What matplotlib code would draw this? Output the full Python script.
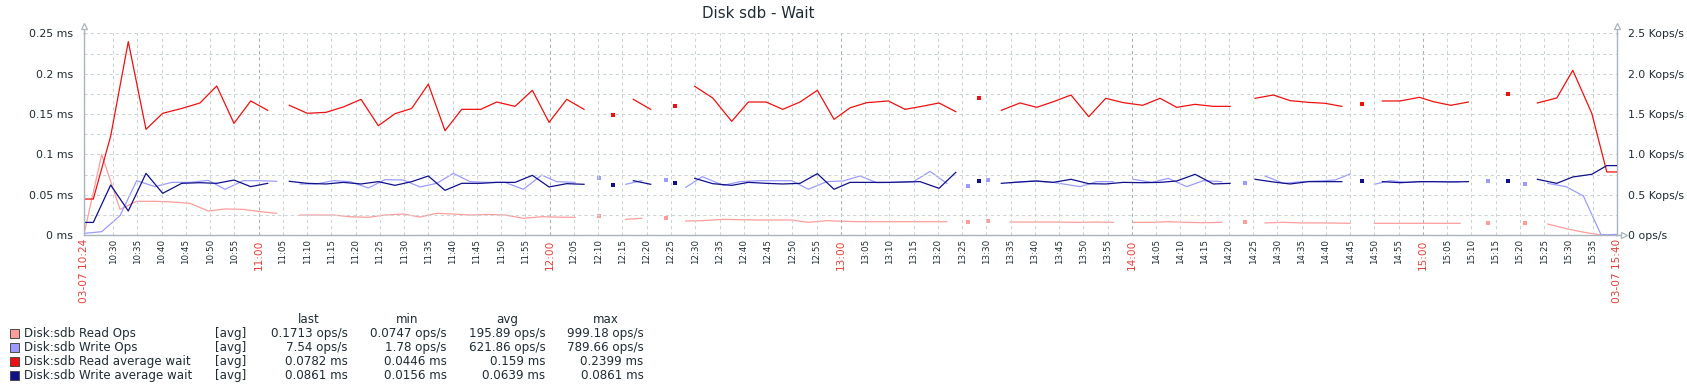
import numpy as np
import matplotlib
matplotlib.use('Agg')
import matplotlib.pyplot as plt
from matplotlib.patches import Rectangle
from matplotlib.lines import Line2D

nan = np.nan

# minutes after 03-07 10:24 (wait items)
wait_t = [0, 1.92, 5.50, 9.13, 12.78, 16.22, 20.14, 23.91, 27.36, 30.92, 34.36, 37.87, nan,
          42.32, 46.03, 49.89, 53.45, 57.10, 60.67, 64.11, 67.55, 70.98, 74.42, 77.86,
          81.78, 85.08, 88.85, 92.42, 95.86, 99.51, 103.07, nan,
          109.11, nan,
          113.23, 116.82, nan,
          121.89, nan,
          125.89, 129.60, 133.52, 136.94, 140.59, 144.03, 147.60, 151.17, 154.61, 157.91,
          161.35, 165.80, 169.24, 172.34, 176.25, 179.70, nan,
          184.56, nan,
          189.09, 192.95, 196.39, 199.81, 203.46, 207.11, 210.62, 214.24, 218.24, 221.81,
          225.25, 229.03, 232.80, 236.24, nan,
          241.39, 245.17, 248.61, 252.38, 255.82, 259.27, nan,
          263.51, nan,
          267.64, 271.29, 275.27, 278.15, 281.74, 285.37, nan,
          293.61, nan,
          299.59, 303.59, 306.89, 310.80, 313.90, 316]

read_wait = [0.0446, 0.0446, 0.1228, 0.2399, 0.1311, 0.1510, 0.1570, 0.1638, 0.1849, 0.1385, 0.1663, 0.1547, nan,
             0.1609, 0.1510, 0.1522, 0.1588, 0.1683, 0.1356, 0.1505, 0.1570, 0.1872, 0.1294, 0.1559,
             0.1559, 0.1650, 0.1596, 0.1795, 0.1398, 0.1683, 0.1559, nan,
             0.1485, nan,
             0.1683, 0.1559, nan,
             0.1596, nan,
             0.1845, 0.1700, 0.1410, 0.1650, 0.1650, 0.1559, 0.1650, 0.1795, 0.1435, 0.1578,
             0.1642, 0.1663, 0.1559, 0.1592, 0.1638, 0.1530, nan,
             0.1696, nan,
             0.1547, 0.1638, 0.1584, 0.1654, 0.1737, 0.1468, 0.1696, 0.1642, 0.1609, 0.1696,
             0.1584, 0.1621, 0.1596, 0.1596, nan,
             0.1696, 0.1737, 0.1667, 0.1646, 0.1634, 0.1596, nan,
             0.1621, nan,
             0.1663, 0.1663, 0.1708, 0.1654, 0.1609, 0.1650, nan,
             0.1745, nan,
             0.1638, 0.1700, 0.2043, 0.1510, 0.0782, 0.0782]

write_wait = [0.0156, 0.0156, 0.0620, 0.0298, 0.0765, 0.0517, 0.0641, 0.0649, 0.0641, 0.0682, 0.0600, 0.0641, nan,
              0.0666, 0.0641, 0.0633, 0.0653, 0.0633, 0.0662, 0.0616, 0.0662, 0.0732, 0.0554, 0.0641,
              0.0641, 0.0653, 0.0653, 0.0740, 0.0596, 0.0637, 0.0629, nan,
              0.0616, nan,
              0.0674, 0.0629, nan,
              0.0641, nan,
              0.0703, 0.0637, 0.0616, 0.0653, 0.0641, 0.0633, 0.0641, 0.0761, 0.0567, 0.0653,
              0.0653, 0.0653, 0.0658, 0.0662, 0.0579, 0.0777, nan,
              0.0666, nan,
              0.0641, 0.0658, 0.0670, 0.0653, 0.0691, 0.0637, 0.0633, 0.0653, 0.0649, 0.0653,
              0.0670, 0.0753, 0.0633, 0.0641, nan,
              0.0691, 0.0658, 0.0633, 0.0662, 0.0662, 0.0662, nan,
              0.0666, nan,
              0.0662, 0.0649, 0.0662, 0.0662, 0.0658, 0.0662, nan,
              0.0666, nan,
              0.0691, 0.0641, 0.0720, 0.0753, 0.0861, 0.0861]

# minutes after 03-07 10:24 (ops items)
ops_t = [0, 3.65, 7.42, 10.86, 14.64, 18.08, 21.85, 25.62, 29.07, 32.84, 36.28, 39.72, nan,
         44.53, 47.90, 51.39, 54.83, 58.61, 62.05, 65.82, 69.26, 72.71, 76.13, 79.57,
         83.22, 86.79, 90.56, 94.35, 97.44, 101.22, nan,
         106.23, nan,
         111.67, 114.97, nan,
         120.04, nan,
         124.04, 127.46, 131.79, 135.23, 139.35, 142.80, 145.89, 149.31, 153.10, 156.50,
         159.97, 163.41, 167.18, 170.96, 174.40, 177.84, nan,
         182.29, nan,
         186.35, nan,
         190.89, 195.69, 199.81, 205.32, 208.76, 212.18, nan,
         216.30, 220.09, 223.52, 227.31, 230.74, 234.53, nan,
         239.22, nan,
         243.46, 247.23, 251.03, 254.80, 257.89, 260.98, nan,
         265.99, 269.22, 272.67, 276.09, 279.88, 283.65, nan,
         289.49, nan,
         297.11, nan,
         301.73, 305.50, 309.07, 312.72, 316]

write_ops = [20, 41, 240, 674, 600, 653, 653, 678, 567, 674, 674, 666, nan,
             633, 633, 674, 662, 583, 687, 682, 596, 641, 765, 662,
             653, 653, 567, 744, 662, 653, nan,
             703, nan,
             629, 674, nan,
             678, nan,
             591, 724, 616, 662, 674, 674, 674, 567, 662, 670,
             732, 649, 653, 662, 789.66, 641, nan,
             604, nan,
             678, nan,
             649, 670, 653, 600, 662, 662, nan,
             691, 653, 703, 600, 674, 662, nan,
             641, nan,
             732, 641, 662, 670, 682, 757, nan,
             629, 674, 653, 662, 662, 662, nan,
             674, nan,
             629, nan,
             641, 600, 484, 1.78, 7.54]

read_ops = [10, 999.18, 318, 418, 418, 410, 393, 298, 323, 318, 290, 269, nan,
            248, 248, 248, 227, 219, 248, 260, 223, 269, 260, 248,
            255, 248, 207, 227, 222, 219, nan,
            232, nan,
            194, 207, nan,
            207, nan,
            174, 178, 194, 190, 186, 186, 186, 157, 178, 170,
            165, 165, 165, 165, 165, 165, nan,
            157, nan,
            170, nan,
            161, 161, 161, 157, 161, 157, nan,
            157, 157, 165, 157, 153, 157, nan,
            157, nan,
            150, 157, 150, 150, 148, 145, nan,
            145, 145, 145, 145, 145, 145, nan,
            145, nan,
            145, nan,
            136, 79, 35, 0.0747, 0.1713]

series_names = ['Disk:sdb Read Ops', 'Disk:sdb Write Ops',
                'Disk:sdb Read average wait', 'Disk:sdb Write average wait']
last_txt = ['0.1713 ops/s', '7.54 ops/s', '0.0782 ms', '0.0861 ms']
min_txt = ['0.0747 ops/s', '1.78 ops/s', '0.0446 ms', '0.0156 ms']
avg_txt = ['195.89 ops/s', '621.86 ops/s', '0.159 ms', '0.0639 ms']
max_txt = ['999.18 ops/s', '789.66 ops/s', '0.2399 ms', '0.0861 ms']
colors = ['#ff9c9c', '#9c9cff', '#f01010', '#10108c']

txt_c = '#1f2c33'
red_c = '#e8403c'
axis_c = '#a9b4bc'
grid_c = '#cbd3d8'

W, H = 1687, 390
fig = plt.figure(figsize=(W / 100, H / 100), dpi=100)


def fx(px):
    return px / W


def fy(py):
    return 1 - py / H


ax = fig.add_axes([fx(84), fy(235), (1617 - 84) / W, (235 - 33.5) / H])
ax2 = ax.twinx()
ax.set_zorder(ax2.get_zorder() + 1)
ax.patch.set_visible(False)


def draw(a, t, v, c):
    t = np.asarray(t, float)
    v = np.asarray(v, float)
    a.plot(t, v, color=c, lw=0.9)
    ok = ~np.isnan(v)
    prev = np.r_[False, ok[:-1]]
    nxt = np.r_[ok[1:], False]
    iso = ok & ~prev & ~nxt
    a.plot(t[iso], v[iso], ls='none', marker='s', ms=2.4, mew=0, color=c)


draw(ax2, ops_t, read_ops, colors[0])
draw(ax2, ops_t, write_ops, colors[1])
draw(ax, wait_t, read_wait, colors[2])
draw(ax, wait_t, write_wait, colors[3])

ax.set_xlim(0, 316)
ax.set_ylim(0, 0.25)
ax2.set_ylim(0, 2500)

# x ticks every 5 minutes, hours in red
tick_t = [0] + list(range(6, 312, 5)) + [316]
labels = []
for t in tick_t:
    m = 10 * 60 + 24 + t
    s = '%02d:%02d' % (m // 60, m % 60)
    if t in (0, 316):
        s = '03-07 ' + s
    labels.append(s)
ax.set_xticks(tick_t)
ax.set_xticklabels(labels, rotation=90)
ax.tick_params(axis='x', length=0, pad=3)
for t, lab in zip(tick_t, ax.get_xticklabels()):
    m = 10 * 60 + 24 + t
    if t in (0, 316) or m % 60 == 0:
        lab.set_color(red_c)
        lab.set_fontsize(7.6)
    else:
        lab.set_color(txt_c)
        lab.set_fontsize(6.3)

ax.set_yticks([0, 0.05, 0.1, 0.15, 0.2, 0.25])
ax.set_yticklabels(['0 ms', '0.05 ms', '0.1 ms', '0.15 ms', '0.2 ms', '0.25 ms'])
ax.set_yticks([0.025, 0.075, 0.125, 0.175, 0.225], minor=True)
ax.tick_params(axis='y', which='both', length=0, pad=8, labelsize=7.9, labelcolor=txt_c)
ax2.set_yticks([0, 500, 1000, 1500, 2000, 2500])
ax2.set_yticklabels(['0 ops/s', '0.5 Kops/s', '1.0 Kops/s', '1.5 Kops/s', '2.0 Kops/s', '2.5 Kops/s'])
ax2.tick_params(axis='y', length=0, pad=8, labelsize=7.8, labelcolor=txt_c)

ax.grid(axis='y', which='both', color=grid_c, lw=0.75, ls=(0, (3, 3)))
ax.grid(axis='x', which='major', color=grid_c, lw=0.75, ls=(0, (3, 3)))
for t, gl in zip(tick_t, ax.get_xgridlines()):
    m = 10 * 60 + 24 + t
    if m % 60 == 0:
        gl.set_color('#a4b0b8')

for sp in ['top', 'right']:
    ax.spines[sp].set_visible(False)
for sp in ['top', 'left', 'bottom']:
    ax2.spines[sp].set_visible(False)
for sp in [ax.spines['left'], ax.spines['bottom'], ax2.spines['right']]:
    sp.set_color(axis_c)
    sp.set_linewidth(1)

# axis arrows
for x0 in (84, 1617):
    fig.add_artist(Line2D([fx(x0), fx(x0)], [fy(33.5), fy(28)], color=axis_c, lw=1))
    fig.add_artist(Line2D([fx(x0)], [fy(26)], marker='^', ms=5, mfc='white', mec=axis_c,
                          mew=0.9, ls='none'))
fig.add_artist(Line2D([fx(1617), fx(1621)], [fy(235), fy(235)], color=axis_c, lw=1))
fig.add_artist(Line2D([fx(1624)], [fy(235)], marker='>', ms=5, mfc='white', mec=axis_c,
                      mew=0.9, ls='none'))

fig.text(fx(758), fy(14), 'Disk sdb - Wait', ha='center', va='center', fontsize=10.8, color=txt_c)

# legend table
fs = 8.6
for name, cx in zip(['last', 'min', 'avg', 'max'], [309, 407, 507, 606]):
    fig.text(fx(cx), fy(319.5), name, ha='center', va='center', fontsize=fs, color=txt_c)
for i in range(len(series_names)):
    ry = 333.5 + 14 * i
    fig.add_artist(Rectangle((fx(10), fy(ry + 4.5)), 9 / W, 9 / H, transform=fig.transFigure,
                             facecolor=colors[i], edgecolor='#4a4a4a', lw=0.7))
    fig.text(fx(24), fy(ry), series_names[i], ha='left', va='center', fontsize=fs, color=txt_c)
    fig.text(fx(215), fy(ry), '[avg]', ha='left', va='center', fontsize=fs, color=txt_c)
    for col, rx in zip([last_txt, min_txt, avg_txt, max_txt], [347.5, 446.5, 545.5, 643.5]):
        fig.text(fx(rx), fy(ry), col[i], ha='right', va='center', fontsize=fs, color=txt_c)

fig.savefig('out.png', dpi=100)
